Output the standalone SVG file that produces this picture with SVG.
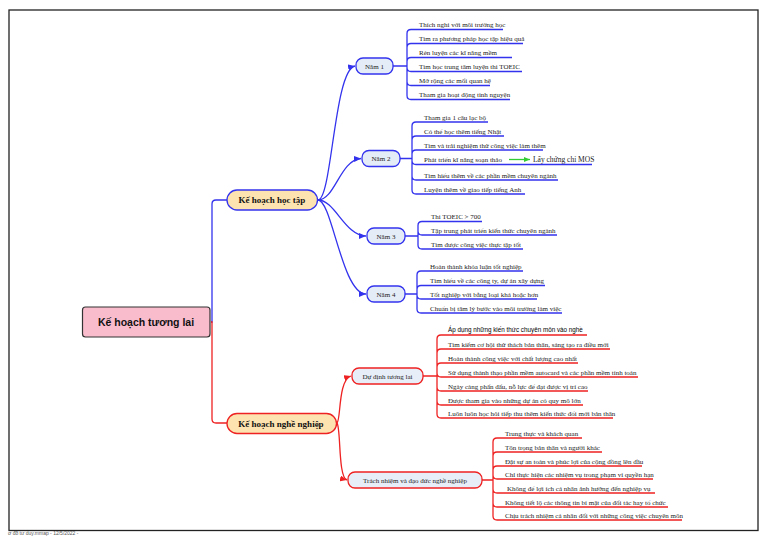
<svg xmlns="http://www.w3.org/2000/svg" width="768" height="543" viewBox="0 0 768 543">
<style>
.b{fill:none;stroke:#3333ee;stroke-width:1.3}
.r{fill:none;stroke:#ee2222;stroke-width:1.3}
.lf{font-family:"Liberation Serif","Times New Roman",serif;font-size:7px;fill:#222}
.nd{font-family:"Liberation Serif","Times New Roman",serif;font-size:7px;fill:#222;text-anchor:middle}
.tp{font-family:"Liberation Serif","Times New Roman",serif;font-size:9px;font-weight:bold;fill:#111;text-anchor:middle}
.sb{fill:#e4ecf7;stroke:#3333ee;stroke-width:1.3}
.sr{fill:#e8eef8;stroke:#ee2222;stroke-width:1.3}
</style>
<defs>
<marker id="ab" markerUnits="userSpaceOnUse" markerWidth="7" markerHeight="6" refX="7" refY="3" orient="auto"><path d="M0,0 L7,3 L0,6 z" fill="#3333ee"/></marker>
<marker id="ar" markerUnits="userSpaceOnUse" markerWidth="7" markerHeight="6" refX="7" refY="3" orient="auto"><path d="M0,0 L7,3 L0,6 z" fill="#ee2222"/></marker>
<marker id="ag" markerUnits="userSpaceOnUse" markerWidth="6" markerHeight="5" refX="6" refY="2.5" orient="auto"><path d="M0,0 L6,2.5 L0,5 z" fill="#33cc33"/></marker>
</defs>
<rect x="0" y="0" width="768" height="543" fill="#ffffff"/>
<rect x="9" y="10" width="749" height="520.5" fill="none" stroke="#222" stroke-width="1.3"/>
<text x="8" y="535" font-family="Liberation Sans, Arial, sans-serif" font-size="5px" fill="#555">ơ đồ tư duy.mmap - 12/5/2022 -</text>

<g id="connectors">
<path class="b" d="M211,322 H212 V204 Q212,200 216,200 H227"/>
<path class="r" d="M211,322 H212 V419 Q212,423 216,423 H227"/>
<path class="b" d="M318,200 C332,200 334,70 355,66" marker-end="url(#ab)"/>
<path class="b" d="M318,200 C335,200 340,160 361,158.5" marker-end="url(#ab)"/>
<path class="b" d="M318,200 C335,200 345,236 366,236" marker-end="url(#ab)"/>
<path class="b" d="M318,200 C332,200 342,294 366,294" marker-end="url(#ab)"/>
<path class="r" d="M337,423 C341,420 338,380 351,376" marker-end="url(#ar)"/>
<path class="r" d="M337,423 C341,428 338,478 347,480" marker-end="url(#ar)"/>
<!-- Nam 1 -->
<path class="b" d="M393,66 H407 M407,33.5 V95.5 M407,33.5 Q407,29.5 411,29.5 L503,29.5 M407,47.5 Q407,43.5 411,43.5 L523,43.5 M407,61.5 Q407,57.5 411,57.5 L512,57.5 M407,67.5 Q407,71.5 411,71.5 L522,71.5 M407,81.5 Q407,85.5 411,85.5 L490,85.5 M407,95.5 Q407,99.5 411,99.5 L510,99.5"/>
<!-- Nam 2 -->
<path class="b" d="M400,158.5 H412 M412,126 V190 M412,126 Q412,122 416,122 L488,122 M412,140 Q412,136 416,136 L504,136 M412,154 Q412,150 416,150 L543,150 M412,160.5 Q412,164.5 416,164.5 L592,164.5 M412,176 Q412,180 416,180 L558,180 M412,190 Q412,194 416,194 L525,194"/>
<path d="M509,159.5 H530" fill="none" stroke="#33cc33" stroke-width="1.3" marker-end="url(#ag)"/>
<!-- Nam 3 -->
<path class="b" d="M405,236 H418 M418,225.5 V245 M418,225.5 Q418,221.5 422,221.5 L482,221.5 M418,231 Q418,235 422,235 L557,235 M418,245 Q418,249 422,249 L523,249"/>
<!-- Nam 4 -->
<path class="b" d="M405,294 H417 M417,275 V309 M417,275 Q417,271 421,271 L523,271 M417,289.5 Q417,285.5 421,285.5 L545,285.5 M417,295 Q417,299 421,299 L537,299 M417,309 Q417,313 421,313 L562,313"/>
<!-- Du dinh -->
<path class="r" d="M423,376 H437 M437,339 V414 M437,339 Q437,335 441,335 L587,335 M437,353 Q437,349 441,349 L610,349 M437,367 Q437,363 441,363 L578,363 M437,373 Q437,377 441,377 L638,377 M437,387 Q437,391 441,391 L588,391 M437,401 Q437,405 441,405 L583,405 M437,414 Q437,418 441,418 L613,418"/>
<!-- Trach nhiem -->
<path class="r" d="M482,480 H493 M493,442 V516 M493,442 Q493,438 497,438 L582,438 M493,456 Q493,452 497,452 L602,452 M493,470 Q493,466 497,466 L642,466 M493,475 Q493,479 497,479 L653,479 M493,489 Q493,493 497,493 L655,493 M493,503 Q493,507 497,507 L668,507 M493,516 Q493,520 497,520 L682,520"/>
</g>

<g id="root">
<rect x="82.5" y="307" width="127.5" height="30" rx="3" fill="#f9bccd" stroke="#333" stroke-width="1.2"/>
<text x="146" y="326" text-anchor="middle" font-family="Liberation Sans, Arial, sans-serif" font-size="10.5px" font-weight="bold" fill="#111">Kế hoạch tương lai</text>
</g>

<g id="ke-hoach-hoc-tap">
<rect x="227" y="190" width="90.5" height="20" rx="10" fill="#fde3b0" stroke="#3333ee" stroke-width="1.3"/>
<text class="tp" x="272" y="203">Kế hoạch học tập</text>
</g>
<g id="ke-hoach-nghe-nghiep">
<rect x="227" y="413.5" width="109.5" height="20" rx="10" fill="#fde3b0" stroke="#ee2222" stroke-width="1.3"/>
<text class="tp" x="281" y="426.5">Kế hoạch nghề nghiệp</text>
</g>

<g id="nam-1">
<rect class="sb" x="356" y="58" width="37" height="16" rx="7"/>
<text class="nd" x="374.5" y="68.5">Năm 1</text>
<text class="lf" x="419" y="27">Thích nghi với môi trường học</text>
<text class="lf" x="419" y="41">Tìm ra phương pháp học tập hiệu quả</text>
<text class="lf" x="419" y="55">Rèn luyện các kĩ năng mềm</text>
<text class="lf" x="419" y="69">Tìm học trung tâm luyện thi TOEIC</text>
<text class="lf" x="419" y="83">Mở rộng các mối quan hệ</text>
<text class="lf" x="419" y="97">Tham gia hoạt động tình nguyện</text>
</g>

<g id="nam-2">
<rect class="sb" x="362" y="150.5" width="38" height="16" rx="7"/>
<text class="nd" x="381" y="161">Năm 2</text>
<text class="lf" x="424" y="119.5">Tham gia 1 câu lạc bộ</text>
<text class="lf" x="424" y="133.5">Có thể học thêm tiếng Nhật</text>
<text class="lf" x="424" y="147.5">Tìm và trải nghiệm thử công việc làm thêm</text>
<text class="lf" x="424" y="162">Phát triển kĩ năng soạn thảo</text>
<text class="lf" x="533" y="162" style="font-size:7.5px">Lấy chứng chỉ MOS</text>
<text class="lf" x="424" y="177.5">Tìm hiểu thêm về các phần mềm chuyên ngành</text>
<text class="lf" x="424" y="191.5">Luyện thêm về giao tiếp tiếng Anh</text>
</g>

<g id="nam-3">
<rect class="sb" x="367" y="228" width="38" height="16" rx="7"/>
<text class="nd" x="386" y="238.5">Năm 3</text>
<text class="lf" x="431" y="219">Thi TOEIC &gt; 700</text>
<text class="lf" x="431" y="232.5">Tập trung phát triển kiến thức chuyên ngành</text>
<text class="lf" x="431" y="246.5">Tìm được công việc thực tập tốt</text>
</g>

<g id="nam-4">
<rect class="sb" x="367" y="286" width="38" height="16" rx="7"/>
<text class="nd" x="386" y="296.5">Năm 4</text>
<text class="lf" x="430" y="268.5">Hoàn thành khóa luận tốt nghiệp</text>
<text class="lf" x="430" y="283">Tìm hiểu về các công ty, dự án xây dựng</text>
<text class="lf" x="430" y="296.5">Tốt nghiệp với bằng loại khá hoặc hơn</text>
<text class="lf" x="430" y="310.5">Chuẩn bị tâm lý bước vào môi trường làm việc</text>
</g>

<g id="du-dinh-tuong-lai">
<rect class="sr" x="352" y="368" width="71" height="16" rx="7"/>
<text class="nd" x="387.5" y="378.5">Dự định tương lai</text>
<text x="448" y="332" font-family="Liberation Sans, Arial, sans-serif" font-size="6.3px" fill="#000">Áp dụng những kiến thức chuyên môn vào nghề</text>
<text class="lf" x="448" y="346.5">Tìm kiếm cơ hội thử thách bản thân, sáng tạo ra điều mới</text>
<text class="lf" x="448" y="360.5">Hoàn thành công việc với chất lượng cao nhất</text>
<text class="lf" x="448" y="374.5">Sử dụng thành thạo phần mềm autocard và các phần mềm tính toán</text>
<text class="lf" x="448" y="388.5">Ngày càng phấn đấu, nỗ lực để đạt được vị trí cao</text>
<text class="lf" x="448" y="402.5">Được tham gia vào những dự án có quy mô lớn</text>
<text class="lf" x="448" y="415.5">Luôn luôn học hỏi tiếp thu thêm kiến thức đổi mới bản thân</text>
</g>

<g id="trach-nhiem">
<rect class="sr" x="348" y="472" width="134" height="16" rx="7"/>
<text class="nd" x="415" y="482.5">Trách nhiệm và đạo đức nghề nghiệp</text>
<text class="lf" x="505" y="435.5">Trung thực và khách quan</text>
<text class="lf" x="505" y="449.5">Tôn trọng bản thân và người khác</text>
<text class="lf" x="505" y="463.5">Đặt sự an toàn và phúc lợi của cộng đồng lên đầu</text>
<text class="lf" x="505" y="476.5">Chỉ thực hiện các nhiệm vụ trong phạm vi quyền hạn</text>
<text class="lf" x="507" y="490.5">Không để lợi ích cá nhân ảnh hưởng đến nghiệp vụ</text>
<text class="lf" x="505" y="504.5">Không tiết lộ các thông tin bí mật của đối tác hay tổ chức</text>
<text class="lf" x="505" y="517.5">Chịu trách nhiệm cá nhân đối với những công việc chuyên môn</text>
</g>
</svg>
